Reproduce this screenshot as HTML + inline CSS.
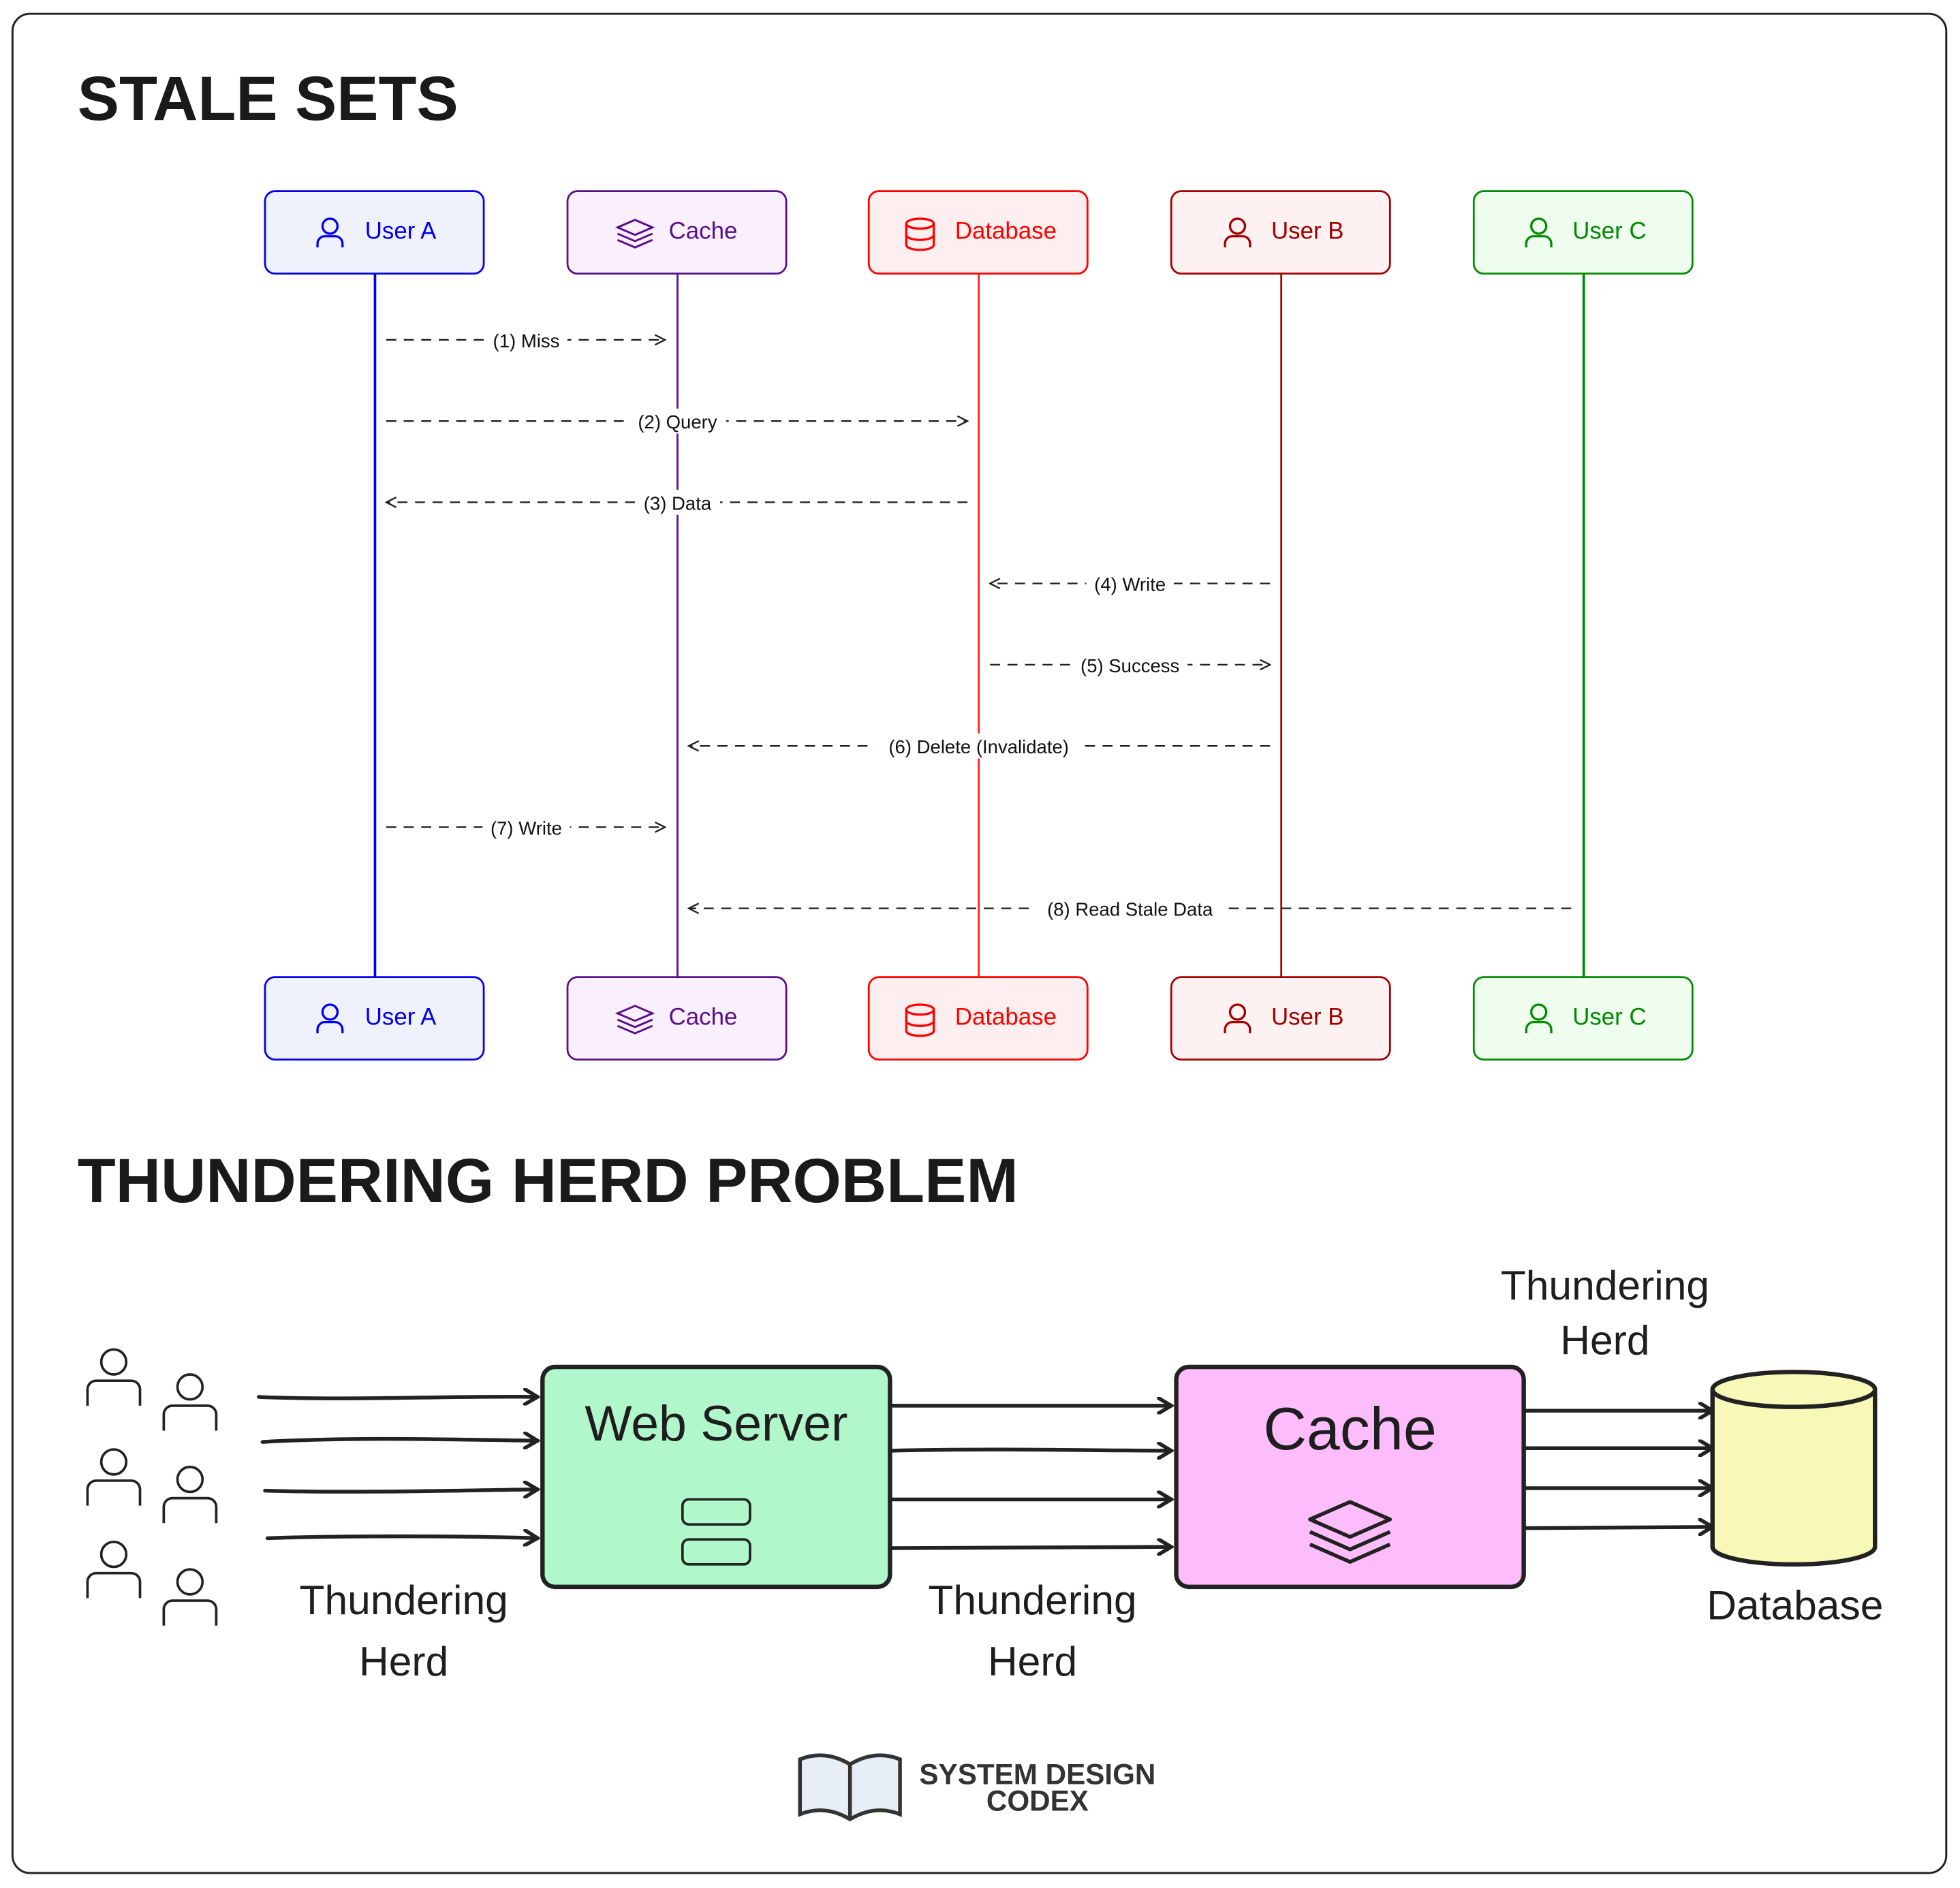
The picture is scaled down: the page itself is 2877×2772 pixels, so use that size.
<!DOCTYPE html>
<html><head><meta charset="utf-8"><style>
html,body{margin:0;padding:0;background:#fff}
svg{display:block}
text{font-family:"Liberation Sans",sans-serif}
</style></head><body>
<svg width="2877" height="2772" viewBox="0 0 1568 1511" preserveAspectRatio="none" xmlns="http://www.w3.org/2000/svg">
<defs>
<marker id="oa" markerWidth="10" markerHeight="10" refX="9" refY="5" orient="auto" markerUnits="userSpaceOnUse"><path d="M1,1 L9,5 L1,9" fill="none" stroke="#222" stroke-width="1.3"/></marker>
<marker id="ba" markerWidth="14" markerHeight="14" refX="12" refY="7" orient="auto" markerUnits="userSpaceOnUse"><path d="M2,1 L12,7 L2,13" fill="none" stroke="#222" stroke-width="3" stroke-linecap="round"/></marker>
<g id="person"><circle cx="0" cy="-7" r="6" fill="none" stroke-width="1.8"/><path d="M-10,10 v-3 a6,6 0 0 1 6,-6 h8 a6,6 0 0 1 6,6 v3" fill="none" stroke-width="1.8"/></g>
<g id="bigperson" fill="none" stroke="#222" stroke-width="2"><ellipse cx="0" cy="0" rx="10" ry="10"/><path d="M-21,35 v-13 a7,7 0 0 1 7,-7 h28 a7,7 0 0 1 7,7 v13"/></g>
</defs>
<rect x="10" y="11" width="1547" height="1488" rx="14" fill="#fff" stroke="#222" stroke-width="1.6"/>
<text x="62" y="96" font-size="50" font-weight="bold" fill="#1a1a1a">STALE SETS</text>
<text x="62" y="962" font-size="50" font-weight="bold" fill="#1a1a1a">THUNDERING HERD PROBLEM</text>

<line x1="300" y1="219" x2="300" y2="782" stroke="#0000ee" stroke-width="2"/>
<line x1="542" y1="219" x2="542" y2="782" stroke="#5b0e8a" stroke-width="1.5"/>
<line x1="783" y1="219" x2="783" y2="782" stroke="#ff2020" stroke-width="1.5"/>
<line x1="1025" y1="219" x2="1025" y2="782" stroke="#a00000" stroke-width="1.5"/>
<line x1="1267" y1="219" x2="1267" y2="782" stroke="#008a00" stroke-width="2"/>

<g font-size="19">
<g>
<rect x="212" y="153" width="175" height="66" rx="8" fill="#eff1fd" stroke="#0000ee" stroke-width="1.5"/>
<use href="#person" x="264" y="188" stroke="#0000ee"/><text x="292" y="191" fill="#0000ee">User A</text>
<rect x="212" y="782" width="175" height="66" rx="8" fill="#eff1fd" stroke="#0000ee" stroke-width="1.5"/>
<use href="#person" x="264" y="817" stroke="#0000ee"/><text x="292" y="820" fill="#0000ee">User A</text>
</g>
<g>
<rect x="454" y="153" width="175" height="66" rx="8" fill="#faf0fd" stroke="#5b0e8a" stroke-width="1.5"/>
<g fill="none" stroke="#5b0e8a" stroke-width="1.6"><path d="M494,182 L508,176 L522,182 L508,188 Z M494,187 L508,193 L522,187 M494,192 L508,198 L522,192"/></g>
<text x="535" y="191" fill="#5b0e8a">Cache</text>
<rect x="454" y="782" width="175" height="66" rx="8" fill="#faf0fd" stroke="#5b0e8a" stroke-width="1.5"/>
<g fill="none" stroke="#5b0e8a" stroke-width="1.6"><path d="M494,811 L508,805 L522,811 L508,817 Z M494,816 L508,822 L522,816 M494,821 L508,827 L522,821"/></g>
<text x="535" y="820" fill="#5b0e8a">Cache</text>
</g>
<g>
<rect x="695" y="153" width="175" height="66" rx="8" fill="#fdefef" stroke="#ff0000" stroke-width="1.5"/>
<g fill="none" stroke="#ff0000" stroke-width="1.8"><ellipse cx="736" cy="179" rx="11" ry="4"/><path d="M725,179 v17 a11,4 0 0 0 22,0 v-17 M725,188 a11,4 0 0 0 22,0"/></g>
<text x="764" y="191" fill="#ff0000">Database</text>
<rect x="695" y="782" width="175" height="66" rx="8" fill="#fdefef" stroke="#ff0000" stroke-width="1.5"/>
<g fill="none" stroke="#ff0000" stroke-width="1.8"><ellipse cx="736" cy="808" rx="11" ry="4"/><path d="M725,808 v17 a11,4 0 0 0 22,0 v-17 M725,817 a11,4 0 0 0 22,0"/></g>
<text x="764" y="820" fill="#ff0000">Database</text>
</g>
<g>
<rect x="937" y="153" width="175" height="66" rx="8" fill="#fdf1f1" stroke="#a00000" stroke-width="1.5"/>
<use href="#person" x="990" y="188" stroke="#a00000"/><text x="1017" y="191" fill="#a00000">User B</text>
<rect x="937" y="782" width="175" height="66" rx="8" fill="#fdf1f1" stroke="#a00000" stroke-width="1.5"/>
<use href="#person" x="990" y="817" stroke="#a00000"/><text x="1017" y="820" fill="#a00000">User B</text>
</g>
<g>
<rect x="1179" y="153" width="175" height="66" rx="8" fill="#effdef" stroke="#008a00" stroke-width="1.5"/>
<use href="#person" x="1231" y="188" stroke="#008a00"/><text x="1258" y="191" fill="#008a00">User C</text>
<rect x="1179" y="782" width="175" height="66" rx="8" fill="#effdef" stroke="#008a00" stroke-width="1.5"/>
<use href="#person" x="1231" y="817" stroke="#008a00"/><text x="1258" y="820" fill="#008a00">User C</text>
</g>
</g>

<g stroke="#222" stroke-width="1.3" stroke-dasharray="8,6" fill="none">
<line x1="309" y1="272" x2="532" y2="272" marker-end="url(#oa)"/>
<line x1="309" y1="337" x2="774" y2="337" marker-end="url(#oa)"/>
<line x1="774" y1="402" x2="309" y2="402" marker-end="url(#oa)"/>
<line x1="1016" y1="467" x2="792" y2="467" marker-end="url(#oa)"/>
<line x1="792" y1="532" x2="1016" y2="532" marker-end="url(#oa)"/>
<line x1="1016" y1="597" x2="551" y2="597" marker-end="url(#oa)"/>
<line x1="309" y1="662" x2="532" y2="662" marker-end="url(#oa)"/>
<line x1="1257" y1="727" x2="551" y2="727" marker-end="url(#oa)"/>
</g>
<g font-size="15" fill="#111" text-anchor="middle">
<rect x="388" y="262" width="66" height="20" fill="#fff"/><text x="421" y="278">(1) Miss</text>
<rect x="503" y="327" width="78" height="20" fill="#fff"/><text x="542" y="343">(2) Query</text>
<rect x="508" y="392" width="68" height="20" fill="#fff"/><text x="542" y="408">(3) Data</text>
<rect x="869" y="457" width="70" height="20" fill="#fff"/><text x="904" y="473">(4) Write</text>
<rect x="858" y="522" width="92" height="20" fill="#fff"/><text x="904" y="538">(5) Success</text>
<rect x="700" y="587" width="166" height="20" fill="#fff"/><text x="783" y="603">(6) Delete (Invalidate)</text>
<rect x="386" y="652" width="70" height="20" fill="#fff"/><text x="421" y="668">(7) Write</text>
<rect x="828" y="717" width="152" height="20" fill="#fff"/><text x="904" y="733">(8) Read Stale Data</text>
</g>

<use href="#bigperson" x="91" y="1090"/>
<use href="#bigperson" x="152" y="1110"/>
<use href="#bigperson" x="91" y="1170"/>
<use href="#bigperson" x="152" y="1184"/>
<use href="#bigperson" x="91" y="1244"/>
<use href="#bigperson" x="152" y="1266"/>
<g stroke="#222" stroke-width="3" fill="none" stroke-linecap="round">
<path d="M207,1118 C280,1121 360,1117 430,1118" marker-end="url(#ba)"/>
<path d="M210,1154 C280,1150 360,1152 430,1153" marker-end="url(#ba)"/>
<path d="M212,1193 C280,1195 360,1193 430,1192" marker-end="url(#ba)"/>
<path d="M214,1231 C280,1229 360,1229 430,1231" marker-end="url(#ba)"/>
<path d="M713,1125 L937,1125" marker-end="url(#ba)"/>
<path d="M713,1161 C800,1159 880,1161 937,1161" marker-end="url(#ba)"/>
<path d="M713,1200 L937,1200" marker-end="url(#ba)"/>
<path d="M713,1239 C800,1238 880,1238 937,1238" marker-end="url(#ba)"/>
<path d="M1220,1129 L1370,1129" marker-end="url(#ba)"/>
<path d="M1220,1159 L1370,1159" marker-end="url(#ba)"/>
<path d="M1220,1191 L1370,1191" marker-end="url(#ba)"/>
<path d="M1220,1223 L1370,1222" marker-end="url(#ba)"/>
</g>
<rect x="434" y="1094" width="278" height="176" rx="10" fill="#b0f8cc" stroke="#222" stroke-width="3.5"/>
<text x="573" y="1153" font-size="40" text-anchor="middle" fill="#1e1e1e">Web Server</text>
<rect x="546" y="1200" width="54" height="20" rx="5" fill="none" stroke="#222" stroke-width="2"/>
<rect x="546" y="1232" width="54" height="20" rx="5" fill="none" stroke="#222" stroke-width="2"/>
<rect x="941" y="1094" width="278" height="176" rx="10" fill="#fdbcfb" stroke="#222" stroke-width="3.5"/>
<text x="1080" y="1160" font-size="48" text-anchor="middle" fill="#1e1e1e">Cache</text>
<g fill="none" stroke="#222" stroke-width="3" stroke-linejoin="round">
<path d="M1048,1216 L1080,1202 L1112,1216 L1080,1230 Z"/>
<path d="M1048,1226 L1080,1240 L1112,1226"/>
<path d="M1048,1236 L1080,1250 L1112,1236"/>
</g>
<path d="M1370,1112 v126 a65,14 0 0 0 130,0 v-126" fill="#f8f8b8" stroke="#222" stroke-width="3.5"/>
<ellipse cx="1435" cy="1112" rx="65" ry="14" fill="#f8f8b8" stroke="#222" stroke-width="3.5"/>
<g font-size="33" fill="#1e1e1e" text-anchor="middle">
<text x="323" y="1292">Thundering</text><text x="323" y="1341">Herd</text>
<text x="826" y="1292">Thundering</text><text x="826" y="1341">Herd</text>
<text x="1284" y="1040">Thundering</text><text x="1284" y="1084">Herd</text>
<text x="1436" y="1296">Database</text>
</g>
<g fill="none" stroke="#333" stroke-width="3">
<path d="M640,1452 L640,1408 Q660,1400 680,1412 Q700,1400 720,1408 L720,1452 Q700,1444 680,1456 Q660,1444 640,1452 Z" fill="#e8eef5"/>
<path d="M680,1412 L680,1456"/>
</g>
<text x="830" y="1428" font-size="23" font-weight="bold" fill="#333" text-anchor="middle">SYSTEM DESIGN</text>
<text x="830" y="1449" font-size="23" font-weight="bold" fill="#333" text-anchor="middle">CODEX</text>
</svg>
</body></html>
